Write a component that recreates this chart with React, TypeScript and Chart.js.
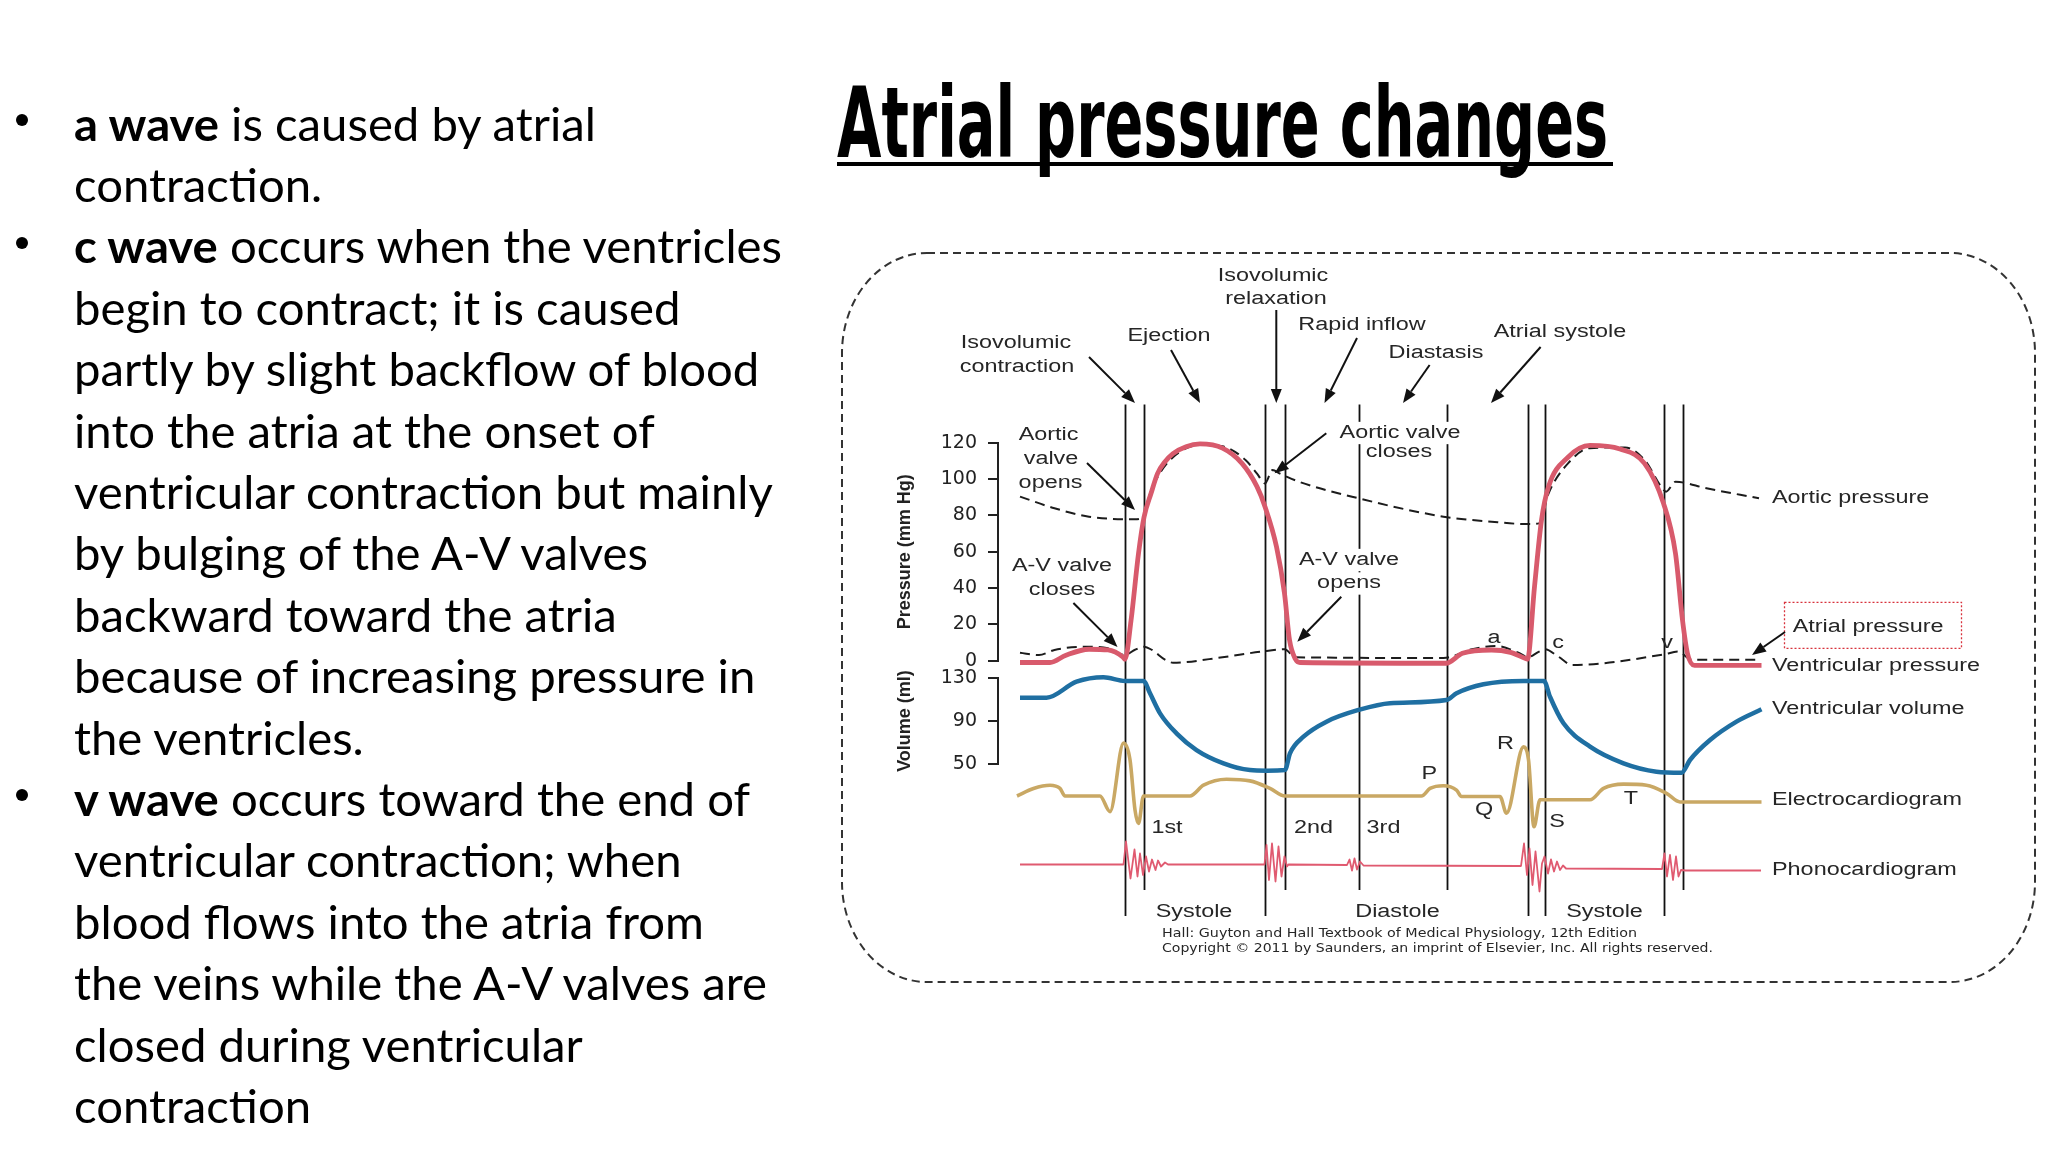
import React, { useEffect, useLayoutEffect, useRef } from "react";
import { Chart, registerables } from "chart.js";

Chart.register(...registerables);

// ---------------- data (time in ms from start of trace) ----------------
const eventTimes = [210, 248, 490, 530, 677, 854, 1016, 1050, 1287, 1325];
const eventLong = [true, false, true, false, false, false, true, true, true, false];

const pressureTicks = [0, 20, 40, 60, 80, 100, 120];
const volumeTicks = [50, 90, 130];

// [time ms, mmHg]
const ventricularPressure: [number, number][] = [
  [0, -1], [60, -1], [92, 3], [138, 6.3], [176, 5.9], [206, 2], [210, 0.8], [222, 22], [237, 59],
  [248, 79], [262, 92], [275, 103], [290, 109.5], [306, 114], [332, 117.8], [360, 119.3], [405, 117],
  [444, 108.6], [474, 95.8], [490, 84.8], [513, 62.7], [529, 37], [539, 11.4], [551, 0.8], [560, -1],
  [852, -1.4], [885, 4.1], [943, 5.9], [981, 4.6], [1010, 1.3], [1015, 0.8], [1029, 40.7], [1043, 77.4],
  [1057, 95.8], [1096, 112], [1140, 118.5], [1200, 116.5], [1249, 108.6], [1287, 86.6], [1311, 59],
  [1325, 22.4], [1335, 4], [1349, -2.6], [1483, -2.6],
];
const aorticPressure: [number, number][] = [
  [0, 90.3], [69, 83.9], [138, 79.3], [229, 77.8], [248, 79.5], [260, 92], [275, 101], [306, 112],
  [360, 118.8], [405, 118], [451, 110.5], [474, 103], [490, 97.6], [505, 105], [520, 103], [558, 98.5],
  [677, 89.4], [847, 79.3], [943, 76.5], [1015, 75.2], [1038, 75.6], [1057, 92], [1096, 108.6],
  [1140, 117], [1210, 117.4], [1249, 110.5], [1287, 94], [1292, 93], [1311, 98.5], [1373, 94.9], [1478, 89.4],
];
const atrialPressure: [number, number][] = [
  [0, 4.4], [38, 3.1], [69, 5.9], [130, 7.7], [176, 6.8], [210, 3.1], [229, 5.9], [248, 7.7], [264, 5.9],
  [291, 0.4], [306, -1.1], [405, 1.9], [482, 5], [529, 6.3], [551, 1.9], [847, 1.5], [904, 6.3], [952, 8.1],
  [1000, 4], [1015, 1.9], [1038, 5], [1050, 6.3], [1077, 2.2], [1105, -2.4], [1287, 3.4], [1316, 5],
  [1344, 0.5], [1478, 0.5],
];
// [time ms, ml]
const ventricularVolume: [number, number][] = [
  [0, 111.5], [53, 111.5], [113, 126.3], [167, 130.4], [210, 127], [247, 127], [260, 115.6], [280, 97.1],
  [313, 78.6], [353, 63.2], [407, 50.9], [460, 44.7], [493, 44.1], [530, 44.7], [540, 60.2], [567, 75.5],
  [613, 89.4], [677, 100.2], [740, 106.5], [853, 109.4], [873, 115.6], [927, 123.9], [1007, 127],
  [1048, 127], [1060, 112.4], [1087, 87.9], [1140, 66.3], [1207, 50.9], [1273, 43.2], [1323, 42.2],
  [1340, 54], [1380, 72.4], [1433, 89.4], [1483, 100.8],
];
// [time ms, mV]
const electrocardiogram: [number, number][] = [
  [-6, 0], [27, 0.14], [60, 0.2], [80, 0.14], [90, 0], [160, 0], [180, -0.29], [207, 0.98], [220, 0.67],
  [230, -0.26], [237, -0.51], [247, 0], [340, 0], [367, 0.2], [413, 0.31], [460, 0.28], [500, 0.14],
  [530, 0], [803, 0], [820, 0.14], [847, 0.19], [873, 0.11], [883, -0.01], [960, -0.01], [973, -0.32],
  [1007, 0.91], [1017, 0.67], [1028, -0.57], [1040, -0.07], [1140, -0.07], [1167, 0.14], [1207, 0.22],
  [1253, 0.2], [1293, 0.05], [1320, -0.11], [1483, -0.11],
];
// [time ms, relative amplitude]
const phonocardiogram: [number, number][] = [
  [0, 0], [207, 0], [212, 2.3], [221, -1.4], [229, 1.5], [235, -1.2], [240, 1.1], [246, -1.05], [252, 0.8],
  [258, -0.7], [264, 0.5], [271, -0.55], [276, 0.4], [282, -0.2], [290, 0.2], [296, 0], [489, 0],
  [493, 1.95], [498, -1.55], [504, 2.1], [511, -1.7], [517, 1.8], [523, -1.2], [529, 0.8], [534, -0.2],
  [537, 0], [654, -0.05], [659, 0.5], [664, -0.6], [669, 0.6], [674, -0.5], [680, 0.3], [687, -0.1],
  [1002, -0.15], [1008, 2.1], [1014, -1.05], [1019, 1.6], [1025, -2.05], [1031, 1.3], [1039, -2.7],
  [1044, 0.1], [1049, 0.8], [1056, -0.9], [1062, 0.5], [1068, -0.7], [1074, 0.3], [1080, -0.55],
  [1086, -0.1], [1092, -0.4], [1284, -0.45], [1289, 1.1], [1294, -1.2], [1300, 0.95], [1306, -1.55],
  [1312, 0.8], [1317, -1.2], [1322, -0.55], [1331, -0.6], [1482, -0.6],
];

const textLines: { bullet?: boolean; bold?: string; text: string }[] = [
  { bullet: true, bold: "a wave", text: " is caused by atrial" },
  { text: "contraction." },
  { bullet: true, bold: "c wave", text: " occurs when the ventricles" },
  { text: "begin to contract; it is caused" },
  { text: "partly by slight backflow of blood" },
  { text: "into the atria at the onset of" },
  { text: "ventricular contraction but mainly" },
  { text: "by bulging of the A-V valves" },
  { text: "backward toward the atria" },
  { text: "because of increasing pressure in" },
  { text: "the ventricles." },
  { bullet: true, bold: "v wave", text: " occurs toward the end of" },
  { text: "ventricular contraction; when" },
  { text: "blood flows into the atria from" },
  { text: "the veins while the A-V valves are" },
  { text: "closed during ventricular" },
  { text: "contraction" },
];

// ---------------- drawing helpers ----------------
const LABEL_FAMILY = '"Liberation Sans", Arial, sans-serif';
const INK = "#262626";

function drawLabel(
  ctx: CanvasRenderingContext2D,
  text: string,
  x: number,
  y: number,
  o: { align?: CanvasTextAlign; size?: number; sx?: number; bg?: boolean; family?: string; width?: number; color?: string } = {}
) {
  const size = o.size ?? 18;
  ctx.save();
  ctx.font = `${size}px ${o.family ?? LABEL_FAMILY}`;
  const natural = ctx.measureText(text).width;
  const sx = o.width ? o.width / natural : o.sx ?? 1.3;
  const w = natural * sx;
  const align = o.align ?? "center";
  if (o.bg) {
    const left = align === "center" ? x - w / 2 : align === "left" ? x : x - w;
    ctx.fillStyle = "#ffffff";
    ctx.fillRect(left - 3, y - size * 0.62, w + 6, size * 1.24);
  }
  ctx.translate(x, y);
  ctx.scale(sx, 1);
  ctx.textAlign = align;
  ctx.textBaseline = "middle";
  ctx.fillStyle = o.color ?? INK;
  ctx.fillText(text, 0, 0);
  ctx.restore();
}

function drawArrow(ctx: CanvasRenderingContext2D, x1: number, y1: number, x2: number, y2: number) {
  const a = Math.atan2(y2 - y1, x2 - x1);
  const hl = 14;
  const hw = 5.5;
  const bx = x2 - hl * Math.cos(a);
  const by = y2 - hl * Math.sin(a);
  ctx.beginPath();
  ctx.moveTo(x1, y1);
  ctx.lineTo(bx, by);
  ctx.stroke();
  ctx.beginPath();
  ctx.moveTo(x2, y2);
  ctx.lineTo(bx + hw * Math.sin(a), by - hw * Math.cos(a));
  ctx.lineTo(bx - hw * Math.sin(a), by + hw * Math.cos(a));
  ctx.closePath();
  ctx.fill();
}

const diagramPlugin = {
  id: "wiggersDecor",
  beforeDraw(chart: any) {
    const ctx: CanvasRenderingContext2D = chart.ctx;
    ctx.save();
    const L = 842, T = 253, R = 2035, B = 982, rx = 85, ry = 100;
    ctx.strokeStyle = "#333";
    ctx.lineWidth = 2;
    ctx.setLineDash([8, 5]);
    ctx.beginPath();
    ctx.moveTo(L + rx, T);
    ctx.lineTo(R - rx, T);
    ctx.ellipse(R - rx, T + ry, rx, ry, 0, -Math.PI / 2, 0);
    ctx.lineTo(R, B - ry);
    ctx.ellipse(R - rx, B - ry, rx, ry, 0, 0, Math.PI / 2);
    ctx.lineTo(L + rx, B);
    ctx.ellipse(L + rx, B - ry, rx, ry, 0, Math.PI / 2, Math.PI);
    ctx.lineTo(L, T + ry);
    ctx.ellipse(L + rx, T + ry, rx, ry, 0, Math.PI, Math.PI * 1.5);
    ctx.closePath();
    ctx.stroke();
    ctx.restore();
  },
  beforeDatasetsDraw(chart: any) {
    const ctx: CanvasRenderingContext2D = chart.ctx;
    const xs = chart.scales.x, yP = chart.scales.yP, yS = chart.scales.yS;
    const top = yP.getPixelForValue(141);
    const longBottom = chart.chartArea.bottom;
    const shortBottom = yS.getPixelForValue(-2.55);
    ctx.save();
    ctx.strokeStyle = "#111";
    ctx.lineWidth = 1.8;
    eventTimes.forEach((t, i) => {
      const px = Math.round(xs.getPixelForValue(t)) + 0.5;
      ctx.beginPath();
      ctx.moveTo(px, top);
      ctx.lineTo(px, eventLong[i] ? longBottom : shortBottom);
      ctx.stroke();
    });
    ctx.restore();
  },
  afterDatasetsDraw(chart: any) {
    const ctx: CanvasRenderingContext2D = chart.ctx;
    ctx.save();
    // phase labels
    drawLabel(ctx, "Isovolumic", 1273, 276);
    drawLabel(ctx, "relaxation", 1276, 299);
    drawLabel(ctx, "Isovolumic", 1016, 343);
    drawLabel(ctx, "contraction", 1017, 367);
    drawLabel(ctx, "Ejection", 1169, 336);
    drawLabel(ctx, "Rapid inflow", 1362, 325.5);
    drawLabel(ctx, "Diastasis", 1436, 353.5);
    drawLabel(ctx, "Atrial systole", 1560, 332.5);
    // valve labels
    drawLabel(ctx, "Aortic", 1048.6, 435);
    drawLabel(ctx, "valve", 1051, 459.5);
    drawLabel(ctx, "opens", 1050.5, 483.3);
    drawLabel(ctx, "A-V valve", 1062, 566);
    drawLabel(ctx, "closes", 1062, 590.5);
    drawLabel(ctx, "Aortic valve", 1400, 433, { bg: true });
    drawLabel(ctx, "closes", 1399, 452.5, { bg: true });
    drawLabel(ctx, "A-V valve", 1349, 560, { bg: true });
    drawLabel(ctx, "opens", 1349, 583.5, { bg: true });
    // wave letters
    drawLabel(ctx, "a", 1494, 638);
    drawLabel(ctx, "c", 1558, 643);
    drawLabel(ctx, "v", 1667, 643);
    // ECG letters
    drawLabel(ctx, "P", 1429.3, 774);
    drawLabel(ctx, "Q", 1484, 810);
    drawLabel(ctx, "R", 1505.5, 744);
    drawLabel(ctx, "S", 1557, 822);
    drawLabel(ctx, "T", 1631, 799.5);
    // heart sounds
    drawLabel(ctx, "1st", 1167, 828);
    drawLabel(ctx, "2nd", 1313.5, 828);
    drawLabel(ctx, "3rd", 1383.5, 828);
    // phases
    drawLabel(ctx, "Systole", 1194, 911.7);
    drawLabel(ctx, "Diastole", 1397.5, 911.7);
    drawLabel(ctx, "Systole", 1604.5, 911.7);
    // series names
    drawLabel(ctx, "Aortic pressure", 1772, 497.7, { align: "left" });
    drawLabel(ctx, "Atrial pressure", 1792.7, 627.3, { align: "left" });
    drawLabel(ctx, "Ventricular pressure", 1772, 666.5, { align: "left" });
    drawLabel(ctx, "Ventricular volume", 1772, 709.3, { align: "left" });
    drawLabel(ctx, "Electrocardiogram", 1772, 800.3, { align: "left" });
    drawLabel(ctx, "Phonocardiogram", 1772, 870, { align: "left" });
    // atrial pressure dotted box
    ctx.save();
    ctx.strokeStyle = "#d8323c";
    ctx.lineWidth = 1.3;
    ctx.setLineDash([2, 2]);
    ctx.strokeRect(1784.5, 602.3, 177, 46);
    ctx.restore();
    // credits
    drawLabel(ctx, "Hall: Guyton and Hall Textbook of Medical Physiology, 12th Edition", 1162, 934, {
      align: "left", size: 12.5, family: '"DejaVu Sans", sans-serif', width: 475,
    });
    drawLabel(ctx, "Copyright \u00A9 2011 by Saunders, an imprint of Elsevier, Inc. All rights reserved.", 1162, 948.5, {
      align: "left", size: 12.5, family: '"DejaVu Sans", sans-serif', width: 551,
    });
    // arrows
    ctx.strokeStyle = "#111";
    ctx.fillStyle = "#111";
    ctx.lineWidth = 2;
    drawArrow(ctx, 1089, 357, 1135, 403);
    drawArrow(ctx, 1171, 350, 1200, 403);
    drawArrow(ctx, 1276.3, 310, 1276.3, 403);
    drawArrow(ctx, 1357, 338, 1324.5, 403);
    drawArrow(ctx, 1429.6, 365, 1403, 403);
    drawArrow(ctx, 1540.6, 347, 1491, 403);
    drawArrow(ctx, 1087, 463, 1135, 510);
    drawArrow(ctx, 1073.4, 603, 1117.5, 647);
    drawArrow(ctx, 1326.3, 433.3, 1274.6, 473.3);
    drawArrow(ctx, 1341.3, 596.7, 1297.3, 641.7);
    drawArrow(ctx, 1785, 632, 1752, 655);
    ctx.restore();
  },
};

const toXY = (arr: [number, number][]) => arr.map(([x, y]) => ({ x, y }));

export default function App() {
  const canvasRef = useRef<HTMLCanvasElement>(null);
  const textRef = useRef<HTMLDivElement>(null);
  const titleRef = useRef<HTMLSpanElement>(null);

  useLayoutEffect(() => {
    const fit = () => {
      const block = textRef.current;
      if (block) {
        const refSpan = block.querySelector('[data-line="2"]') as HTMLElement | null;
        if (refSpan) {
          const w = refSpan.offsetWidth;
          if (w > 0) block.style.transform = `scaleX(${708 / w})`;
        }
      }
      const t = titleRef.current;
      if (t && t.offsetWidth > 0) t.style.transform = `scaleX(${771 / t.offsetWidth})`;
    };
    fit();
    if ((document as any).fonts && (document as any).fonts.ready) (document as any).fonts.ready.then(fit);
  }, []);

  useEffect(() => {
    if (!canvasRef.current) return;
    const tickFont = { family: '"DejaVu Sans", sans-serif', size: 19 };
    const titleFont = { family: LABEL_FAMILY, size: 18, weight: "bold" as const };
    const common = {
      pointRadius: 0,
      clip: false as any,
      cubicInterpolationMode: "monotone" as const,
      borderJoinStyle: "round" as const,
      borderCapStyle: "butt" as const,
    };
    const chart = new Chart(canvasRef.current, {
      type: "line",
      data: {
        datasets: [
          { ...common, label: "Ventricular pressure", data: toXY(ventricularPressure), yAxisID: "yP", borderColor: "#d85a6c", borderWidth: 4.8 },
          { ...common, label: "Aortic pressure", data: toXY(aorticPressure), yAxisID: "yP", borderColor: "#1c1c1c", borderWidth: 2, borderDash: [10, 6] },
          { ...common, label: "Atrial pressure", data: toXY(atrialPressure), yAxisID: "yP", borderColor: "#1c1c1c", borderWidth: 2, borderDash: [10, 6] },
          { ...common, label: "Ventricular volume", data: toXY(ventricularVolume), yAxisID: "yV", borderColor: "#1f6fa2", borderWidth: 4.5 },
          { ...common, label: "Electrocardiogram", data: toXY(electrocardiogram), yAxisID: "yE", borderColor: "#c9a864", borderWidth: 3.6 },
          { ...common, label: "Phonocardiogram", data: toXY(phonocardiogram), yAxisID: "yS", borderColor: "#e05a70", borderWidth: 1.8, cubicInterpolationMode: "default", tension: 0 },
        ],
      },
      options: {
        animation: false,
        responsive: false,
        devicePixelRatio: 1,
        events: [],
        layout: { padding: { left: 894, right: 286, top: 442.7, bottom: 236 } },
        plugins: { legend: { display: false }, tooltip: { enabled: false } },
        scales: {
          x: { type: "linear", min: -44, max: 1484, display: false },
          yP: {
            type: "linear", position: "left", stack: "wiggers", stackWeight: 218, weight: 5,
            min: 0, max: 120,
            afterBuildTicks: (s: any) => { s.ticks = pressureTicks.map((v) => ({ value: v })); },
            afterFit: (s: any) => { s.width = 104; },
            ticks: { font: tickFont, color: "#222", padding: 11, autoSkip: false },
            grid: { drawOnChartArea: false, drawTicks: true, tickLength: 10, color: "#222", lineWidth: 2 },
            border: { display: true, color: "#222", width: 2 },
            title: { display: true, text: "Pressure (mm Hg)", font: titleFont, color: "#222", padding: 0 },
          },
          yGap: {
            type: "linear", position: "left", stack: "wiggers", stackWeight: 17, weight: 4,
            min: 0, max: 1, display: false,
          },
          yV: {
            type: "linear", position: "left", stack: "wiggers", stackWeight: 86.6, weight: 3,
            min: 50, max: 130,
            afterBuildTicks: (s: any) => { s.ticks = volumeTicks.map((v) => ({ value: v })); },
            afterFit: (s: any) => { s.width = 104; },
            ticks: { font: tickFont, color: "#222", padding: 11, autoSkip: false },
            grid: { drawOnChartArea: false, drawTicks: true, tickLength: 10, color: "#222", lineWidth: 2 },
            border: { display: true, color: "#222", width: 2 },
            title: { display: true, text: "Volume (ml)", font: titleFont, color: "#222", padding: 0 },
          },
          yE: {
            type: "linear", position: "left", stack: "wiggers", stackWeight: 67.7, weight: 2,
            min: -0.667, max: 0.587, display: false,
          },
          yS: {
            type: "linear", position: "left", stack: "wiggers", stackWeight: 84, weight: 1,
            min: -5.15, max: 3.25, display: false,
          },
        } as any,
      },
      plugins: [diagramPlugin as any],
    });
    return () => chart.destroy();
  }, []);

  const firstBaseline = 141;
  const lineStep = 61.4;

  return (
    <div style={{ position: "absolute", left: 0, top: 0, width: 2048, height: 1152, overflow: "hidden", background: "#fff" }}>
      <canvas
        ref={canvasRef}
        width={2048}
        height={1152}
        style={{ position: "absolute", left: 0, top: 0, width: 2048, height: 1152 }}
      />
      {textLines.map((ln, i) =>
        ln.bullet ? (
          <div
            key={"b" + i}
            style={{
              position: "absolute", left: 16, top: firstBaseline + i * lineStep - 27,
              width: 12, height: 12, borderRadius: 6, background: "#000",
            }}
          />
        ) : null
      )}
      <div
        ref={textRef}
        style={{
          position: "absolute", left: 74, top: firstBaseline - 48.5, fontFamily: "Lato, Carlito, sans-serif",
          fontSize: 46, lineHeight: `${lineStep}px`, color: "#000", whiteSpace: "nowrap", transformOrigin: "0 0",
        }}
      >
        {textLines.map((ln, i) => (
          <div key={i}>
            <span data-line={i}>
              {ln.bold ? <b style={{ fontWeight: 700 }}>{ln.bold}</b> : null}
              {ln.text}
            </span>
          </div>
        ))}
      </div>
      <span
        ref={titleRef}
        style={{
          position: "absolute", left: 837, top: 73.7, display: "inline-block",
          fontFamily: '"DejaVu Sans Condensed", "DejaVu Sans", sans-serif', fontWeight: 700,
          fontSize: 98, lineHeight: "98px", whiteSpace: "nowrap", transformOrigin: "0 0", color: "#000",
        }}
      >
        Atrial pressure changes
      </span>
      <div style={{ position: "absolute", left: 837, top: 161.5, width: 776, height: 4.5, background: "#000" }} />
    </div>
  );
}
